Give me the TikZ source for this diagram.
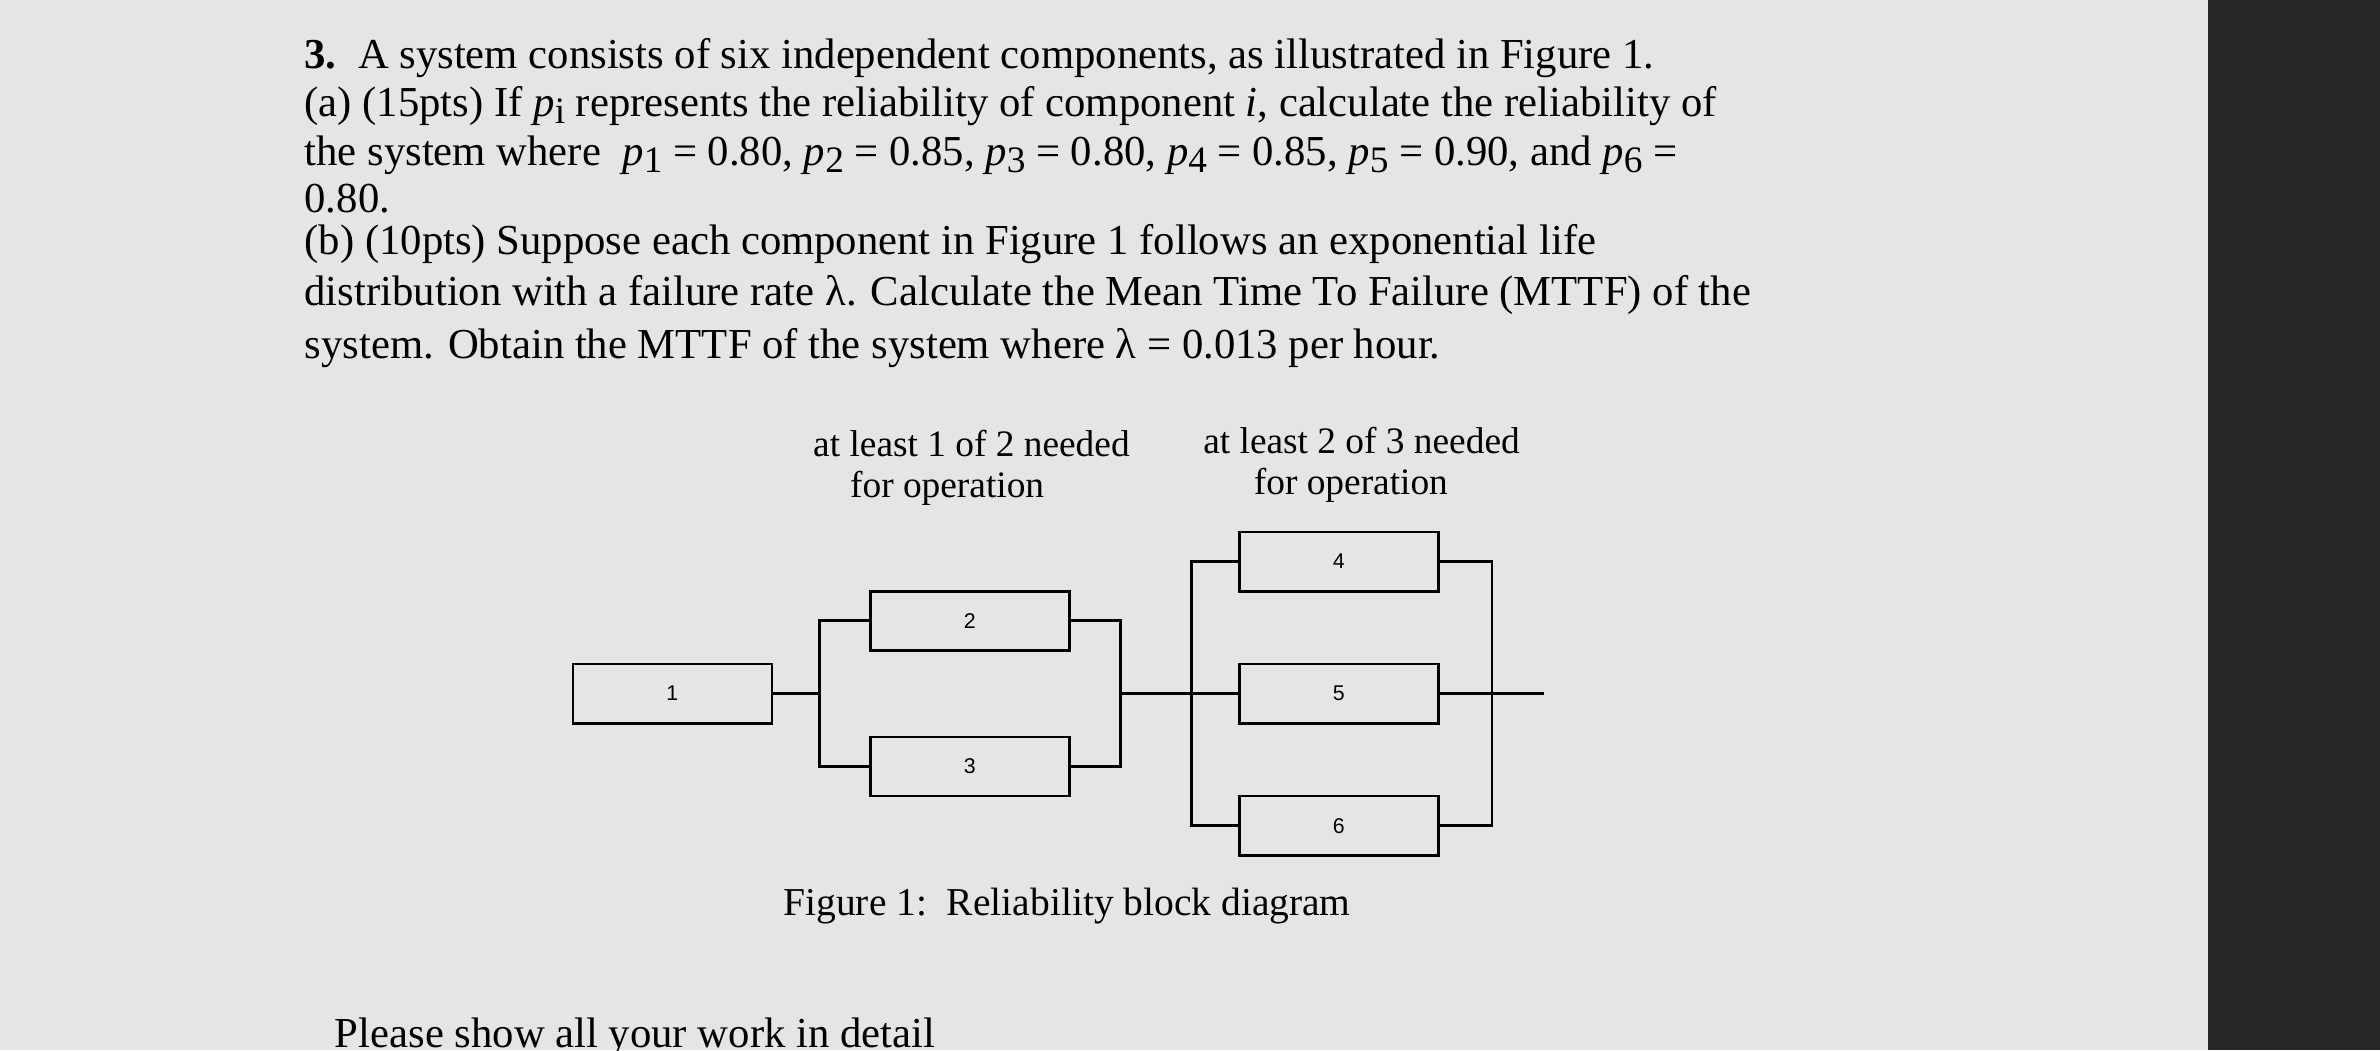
\documentclass[tikz,border=0pt]{standalone}
\usepackage{fontspec}
\setmainfont{Liberation Serif}
\newfontfamily\boxfont{Liberation Sans}
\newcommand{\pv}[1]{\textit{p}\raisebox{-0.35ex}{\scriptsize #1}}
\begin{document}
\begin{tikzpicture}[x=0.01cm,y=-0.01cm,
  txt/.style={anchor=base west,inner sep=0,font=\fontsize{8}{9}\selectfont},
  lab/.style={inner sep=0,font=\fontsize{7}{8.5}\selectfont},
  blk/.style={draw,line width=0.5pt,minimum width=1.31cm,minimum height=0.39cm,inner sep=0,font=\boxfont\fontsize{4}{5}\selectfont},
  wire/.style={line width=0.5pt}]
\useasboundingbox (0,0) rectangle (1568,692);
\clip (0,0) rectangle (1568,692);
\fill[black!10] (0,0) rectangle (1568,692);
\fill[black!85] (1455,0) rectangle (1568,692);
\node[txt] (l1) at (200,45) {\textbf{3.}\ \ A system consists of six independent components, as illustrated in Figure 1.};
\node[txt] (l2) at (200,77) {(a) (15pts) If \pv{i} represents the reliability of component \textit{i}, calculate the reliability of};
\node[txt] (l3) at (200,109) {the system where\ \ \pv{1} = 0.80,\ \pv{2} = 0.85,\ \pv{3} = 0.80,\ \pv{4} = 0.85,\ \pv{5} = 0.90, and \pv{6} =};
\node[txt] (l4) at (200,140) {0.80.};
\node[txt] (l5) at (200,168) {(b) (10pts) Suppose each component in Figure 1 follows an exponential life};
\node[txt] (l6) at (200,201) {distribution with a failure rate λ. Calculate the Mean Time To Failure (MTTF) of the};
\node[txt] (l7) at (200,236) {system. Obtain the MTTF of the system where λ = 0.013 per hour.};
\node[lab] (h1) at (640,292) {at least 1 of 2 needed};
\node[lab] (h2) at (624,322) {for operation};
\node[lab] (h3) at (897,290) {at least 2 of 3 needed};
\node[lab] (h4) at (890,320) {for operation};
\node[blk] (b1) at (443,457) {1};
\node[blk] (b2) at (639,409) {2};
\node[blk] (b3) at (639,505) {3};
\node[blk] (b4) at (882,370) {4};
\node[blk] (b5) at (882,457) {5};
\node[blk] (b6) at (882,544) {6};
\coordinate (s1) at (540,457);
\coordinate (j1) at (738,457);
\coordinate (s2) at (785,457);
\coordinate (j2) at (983,457);
\coordinate (out) at (1017,457);
\draw[wire] (b1.east) -- (s1);
\draw[wire] (b2.west) -| (s1) |- (b3.west);
\draw[wire] (b2.east) -| (j1) |- (b3.east);
\draw[wire] (j1) -- (b5.west);
\draw[wire] (b4.west) -| (s2) |- (b6.west);
\draw[wire] (b4.east) -| (j2) |- (b6.east);
\draw[wire] (b5.east) -- (out);
\node[lab,font=\fontsize{7.4}{9}\selectfont] (cap) at (703,597) {Figure 1:\ \ Reliability block diagram};
\node[txt] (pl) at (220,690) {\underline{P}lease show all your work in detail};
\end{tikzpicture}
\end{document}
